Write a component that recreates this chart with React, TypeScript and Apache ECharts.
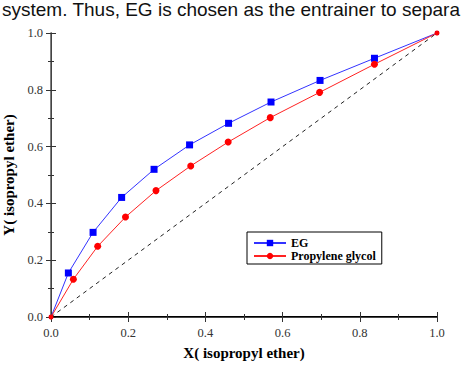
import React, { useEffect, useRef } from "react";
import * as echarts from "echarts";

const egX = [0, 0.045, 0.109, 0.183, 0.267, 0.359, 0.46, 0.57, 0.697, 0.838, 1.0];
const egY = [0, 0.155, 0.298, 0.421, 0.52, 0.606, 0.682, 0.757, 0.833, 0.911, 1.0];
const pgX = [0, 0.058, 0.121, 0.193, 0.272, 0.362, 0.459, 0.568, 0.696, 0.838, 1.0];
const pgY = [0, 0.133, 0.249, 0.352, 0.445, 0.532, 0.616, 0.702, 0.791, 0.89, 1.0];
const diagX = [0, 1];
const diagY = [0, 1];
const seriesNames = ["EG", "Propylene glycol"];
const xTitle = "X( isopropyl ether)";
const yTitle = "Y( isopropyl ether)";
const captionText = "system. Thus, EG is chosen as the entrainer to separa";

const serif = "'Liberation Serif', 'Times New Roman', serif";

function pts(xs: number[], ys: number[], endSize: number, size: number) {
  return xs.map((x, i) => ({
    value: [x, ys[i]],
    symbolSize: i === 0 || i === xs.length - 1 ? endSize : size,
  }));
}

export default function App() {
  const ref = useRef<HTMLDivElement>(null);
  useEffect(() => {
    if (!ref.current) return;
    const chart = echarts.init(ref.current, null, { renderer: "svg" });
    const axisCommon = {
      type: "value",
      min: 0,
      max: 1,
      interval: 0.2,
      splitLine: { show: false },
      minorTick: { show: true, splitNumber: 2, length: 3, lineStyle: { color: "#333", width: 1 } },
      axisTick: { inside: true, length: 5, lineStyle: { color: "#333", width: 1 } },
    };
    const fmt = (v: number) => v.toFixed(1);
    chart.setOption({
      animation: false,
      backgroundColor: "#fff",
      graphic: [
        {
          type: "text",
          left: 2,
          top: 0,
          style: {
            text: captionText,
            font: "19px 'Liberation Sans', Arial, sans-serif",
            fill: "#111",
          },
        },
      ],
      grid: { left: 51, right: 37, top: 33, bottom: 49, outerBoundsMode: "none", containLabel: false },
      legend: {
        data: seriesNames,
        orient: "vertical",
        left: 247,
        top: 232,
        itemGap: 1,
        itemWidth: 32,
        itemHeight: 8,
        padding: [5, 6, 2, 6],
        borderColor: "#000",
        borderWidth: 1,
        borderRadius: 0,
        textStyle: { fontFamily: serif, fontWeight: "bold", fontSize: 12, lineHeight: 12, color: "#000" },
      },
      xAxis: [
        {
          ...axisCommon,
          position: "bottom",
          name: xTitle,
          nameLocation: "middle",
          nameGap: 28,
          nameTextStyle: { fontFamily: serif, fontWeight: "bold", fontSize: 15, color: "#000" },
          axisLine: { lineStyle: { color: "#000", width: 2 } },
          axisLabel: { fontFamily: serif, fontSize: 12.5, color: "#333", margin: 9, formatter: fmt },
        },
        {
          ...axisCommon,
          position: "top",
          axisLine: { lineStyle: { color: "#444", width: 1 } },
          axisLabel: { show: false },
        },
      ],
      yAxis: [
        {
          ...axisCommon,
          position: "left",
          name: yTitle,
          nameLocation: "middle",
          nameGap: 29,
          nameRotate: 90,
          nameTextStyle: { fontFamily: serif, fontWeight: "bold", fontSize: 15, color: "#000" },
          axisLine: { lineStyle: { color: "#555", width: 1.5 } },
          axisLabel: { fontFamily: serif, fontSize: 12.5, color: "#333", margin: 8, formatter: fmt },
        },
        {
          ...axisCommon,
          position: "right",
          axisLine: { lineStyle: { color: "#444", width: 1 } },
          axisLabel: { show: false },
        },
      ],
      series: [
        {
          name: "diag",
          type: "line",
          data: diagX.map((x, i) => [x, diagY[i]]),
          showSymbol: false,
          symbol: "none",
          lineStyle: { color: "#222", width: 1, type: [4, 4] },
          silent: true,
        },
        {
          name: seriesNames[0],
          type: "line",
          data: pts(egX, egY, 4, 7),
          symbol: "rect",
          color: "#0000ff",
          lineStyle: { color: "#3333ff", width: 1 },
          itemStyle: { color: "#0000ff" },
        },
        {
          name: seriesNames[1],
          type: "line",
          data: pts(pgX, pgY, 5, 7),
          symbol: "circle",
          color: "#ff0000",
          lineStyle: { color: "#ff2222", width: 1 },
          itemStyle: { color: "#ff0000" },
        },
      ],
    });
    return () => chart.dispose();
  }, []);
  return <div ref={ref} style={{ width: 474, height: 366, position: "absolute", left: 0, top: 0 }} />;
}
